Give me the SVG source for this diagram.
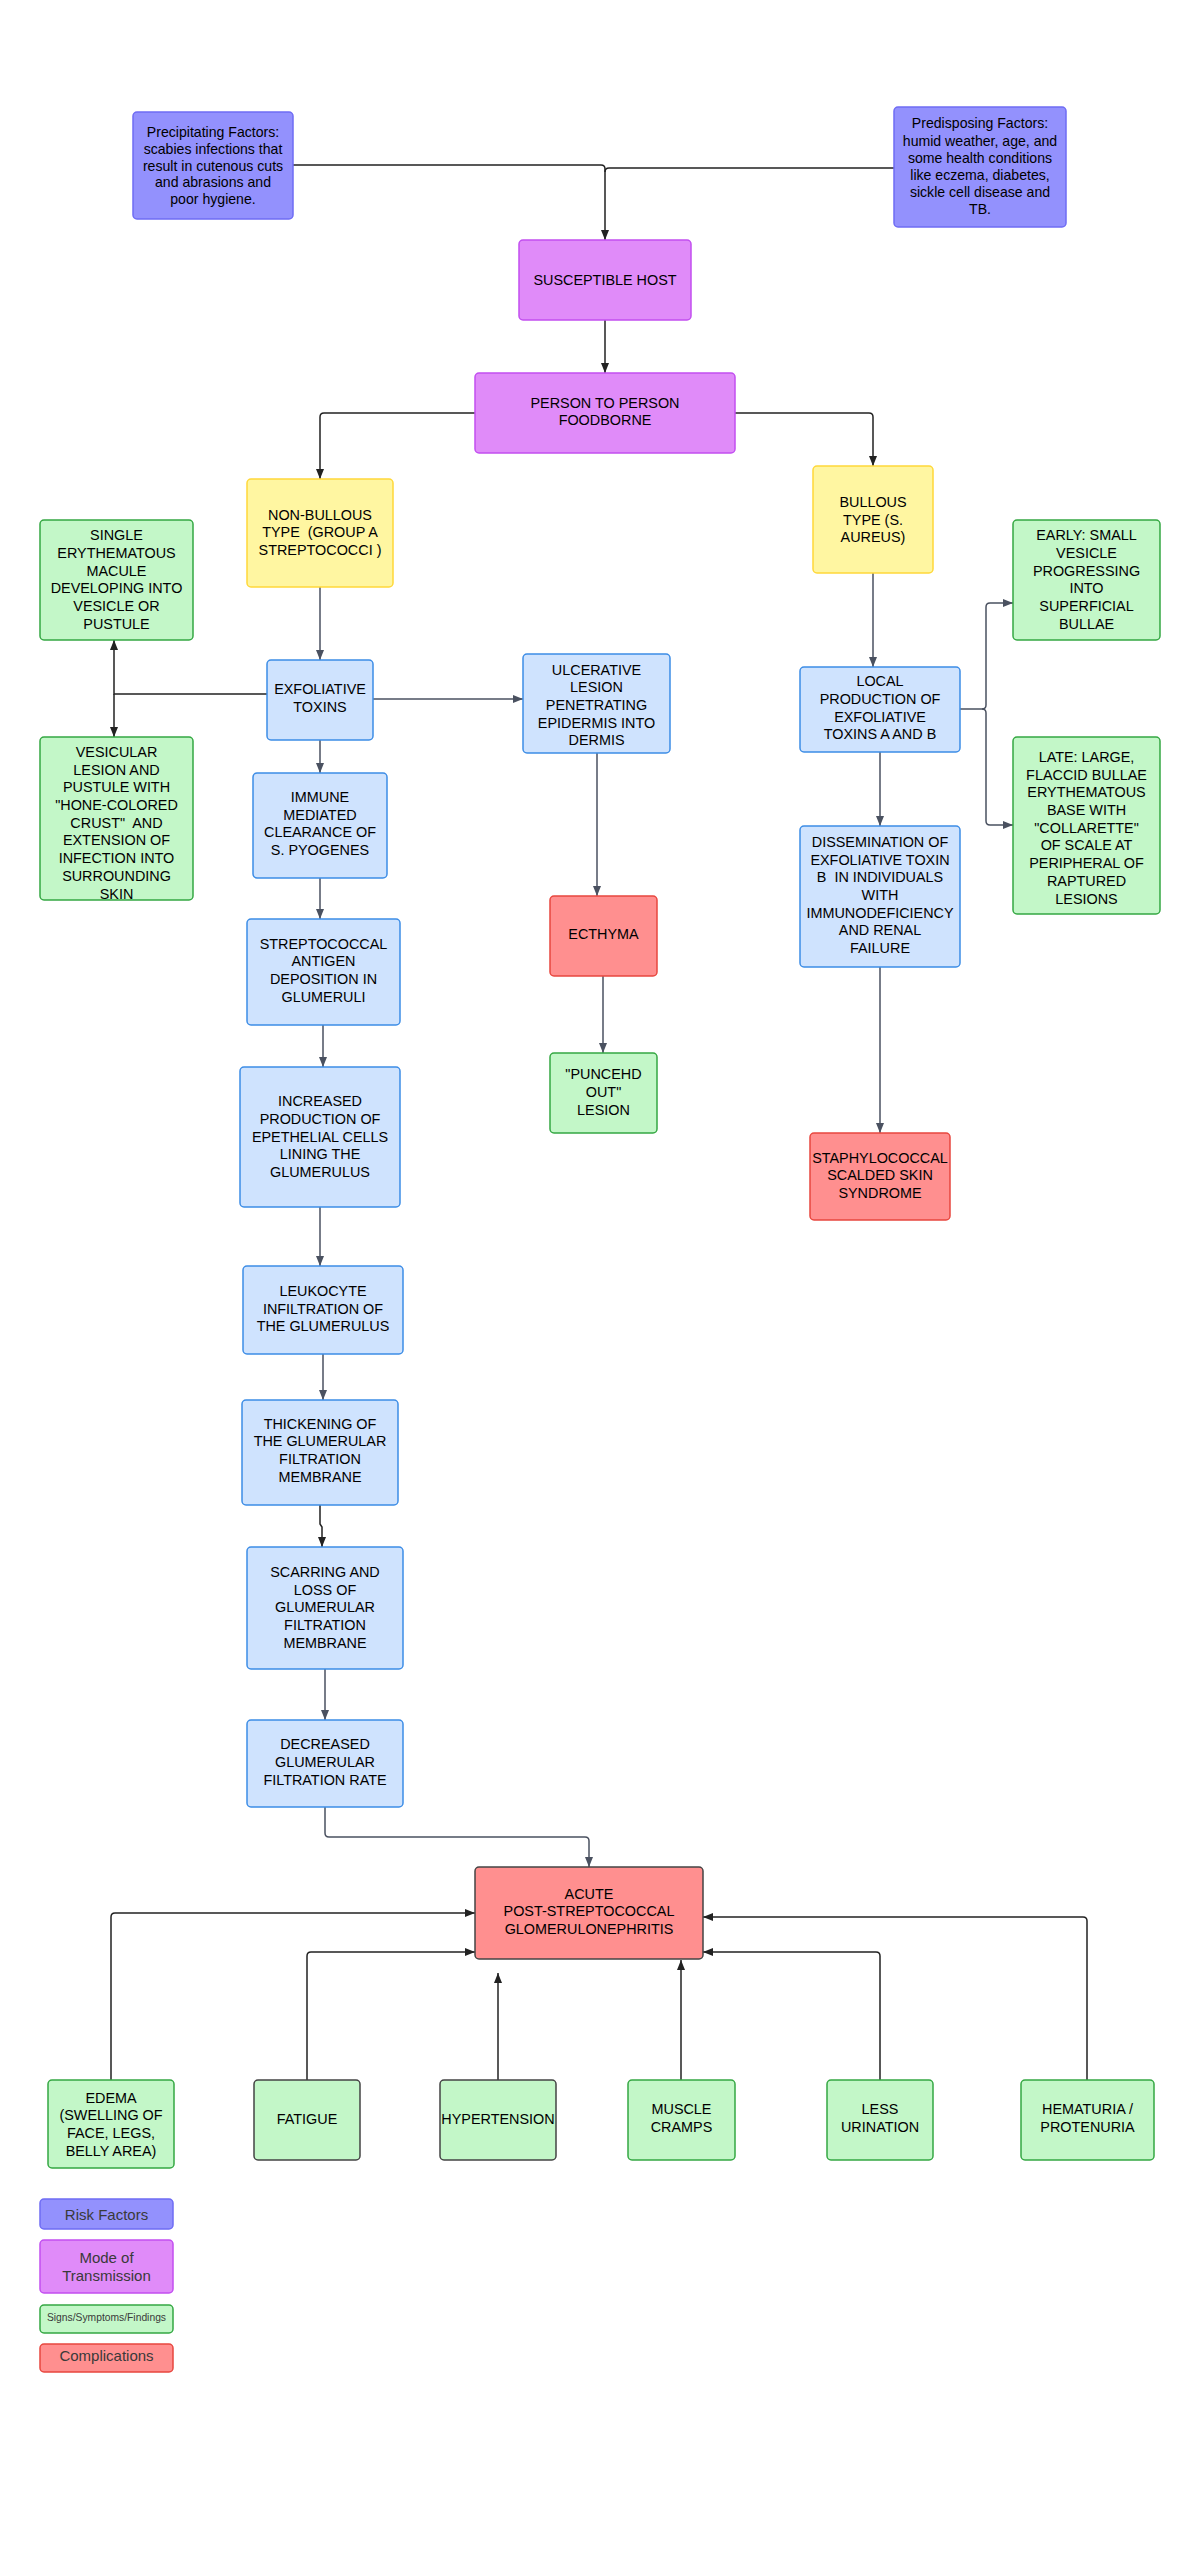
<svg xmlns="http://www.w3.org/2000/svg" width="1200" height="2559" viewBox="0 0 1200 2559">
<style>
  .n rect { stroke-width: 1.5; }
  .rf { fill: #9391fd; stroke: #6f6cf4; }
  .mt { fill: #e08bf9; stroke: #c24ff0; }
  .yl { fill: #fff6a1; stroke: #ffd83a; }
  .bl { fill: #cfe3fe; stroke: #3d8de6; }
  .gr { fill: #c3f7c8; stroke: #35a843; }
  .rd { fill: #ff8f8f; stroke: #e8473f; }
  .dk { stroke: #444 !important; }
  .t { font-family: "Liberation Sans", Arial, sans-serif; font-size: 14.4px; fill: #000; text-anchor: middle; white-space: pre; }
  .tm { font-size: 14.1px; }
  .lg { font-family: "Liberation Sans", Arial, sans-serif; font-size: 15px; fill: #3a3a3a; text-anchor: middle; }
  .c path { fill: none; stroke-width: 1.5; }
  .k { stroke: #222; }
  .s { stroke: #4a5160; }
</style>
<defs>
  <marker id="ak" markerUnits="userSpaceOnUse" markerWidth="10" markerHeight="8" refX="10" refY="4" orient="auto">
    <path d="M0,0 L10,4 L0,8 z" fill="#222"/>
  </marker>
  <marker id="as" markerUnits="userSpaceOnUse" markerWidth="10" markerHeight="8" refX="10" refY="4" orient="auto">
    <path d="M0,0 L10,4 L0,8 z" fill="#4a5160"/>
  </marker>
</defs>
<rect width="1200" height="2559" fill="#ffffff"/>

<g id="connectors" class="c">
  <path class="k" d="M293,165 H601 Q605,165 605,169 V240" marker-end="url(#ak)"/>
  <path class="k" d="M894,168 H609 Q605,168 605,172"/>
  <path class="k" d="M605,320 V373" marker-end="url(#ak)"/>
  <path class="k" d="M475,413 H324 Q320,413 320,417 V479" marker-end="url(#ak)"/>
  <path class="k" d="M735,413 H869 Q873,413 873,417 V466" marker-end="url(#ak)"/>
  <path class="s" d="M320,587 V660" marker-end="url(#as)"/>
  <path class="k" d="M267,694 H114 V640" marker-end="url(#ak)"/>
  <path class="k" d="M114,694 V737" marker-end="url(#ak)"/>
  <path class="s" d="M373,699 H523" marker-end="url(#as)"/>
  <path class="s" d="M320,740 V773" marker-end="url(#as)"/>
  <path class="s" d="M320,878 V919" marker-end="url(#as)"/>
  <path class="s" d="M323,1025 V1067" marker-end="url(#as)"/>
  <path class="s" d="M320,1207 V1266" marker-end="url(#as)"/>
  <path class="s" d="M323,1354 V1400" marker-end="url(#as)"/>
  <path class="k" d="M320,1505 V1524 L322,1527 V1547" marker-end="url(#ak)"/>
  <path class="s" d="M325,1669 V1720" marker-end="url(#as)"/>
  <path class="s" d="M325,1807 V1833 Q325,1837 329,1837 H585 Q589,1837 589,1841 V1867" marker-end="url(#as)"/>
  <path class="s" d="M597,753 V896" marker-end="url(#as)"/>
  <path class="s" d="M603,976 V1053" marker-end="url(#as)"/>
  <path class="s" d="M873,573 V667" marker-end="url(#as)"/>
  <path class="s" d="M960,709 H982 Q986,709 986,705 V607 Q986,603 990,603 H1013" marker-end="url(#as)"/>
  <path class="s" d="M982,709 Q986,709 986,713 V821 Q986,825 990,825 H1013" marker-end="url(#as)"/>
  <path class="s" d="M880,752 V826" marker-end="url(#as)"/>
  <path class="s" d="M880,967 V1133" marker-end="url(#as)"/>
  <path class="k" d="M111,2080 V1917 Q111,1913 115,1913 H475" marker-end="url(#ak)"/>
  <path class="k" d="M307,2080 V1956 Q307,1952 311,1952 H475" marker-end="url(#ak)"/>
  <path class="k" d="M498,2080 V1973" marker-end="url(#ak)"/>
  <path class="k" d="M681,2080 V1960" marker-end="url(#ak)"/>
  <path class="k" d="M880,2080 V1956 Q880,1952 876,1952 H703" marker-end="url(#ak)"/>
  <path class="k" d="M1087,2080 V1921 Q1087,1917 1083,1917 H703" marker-end="url(#ak)"/>
</g>

<g id="precipitating" class="n">
  <rect class="rf" x="133" y="112" width="160" height="107" rx="4"/>
  <text class="t tm"><tspan x="213" y="137">Precipitating Factors:</tspan><tspan x="213" y="153.8">scabies infections that</tspan><tspan x="213" y="170.6">result in cutenous cuts</tspan><tspan x="213" y="187.4">and abrasions and</tspan><tspan x="213" y="204.2">poor hygiene.</tspan></text>
</g>
<g id="predisposing" class="n">
  <rect class="rf" x="894" y="107" width="172" height="120" rx="4"/>
  <text class="t tm"><tspan x="980" y="128.3">Predisposing Factors:</tspan><tspan x="980" y="145.5">humid weather, age, and</tspan><tspan x="980" y="162.7">some health conditions</tspan><tspan x="980" y="179.9">like eczema, diabetes,</tspan><tspan x="980" y="197.1">sickle cell disease and</tspan><tspan x="980" y="214.3">TB.</tspan></text>
</g>
<g id="susceptible" class="n">
  <rect class="mt" x="519" y="240" width="172" height="80" rx="4"/>
  <text class="t"><tspan x="605" y="285">SUSCEPTIBLE HOST</tspan></text>
</g>
<g id="person" class="n">
  <rect class="mt" x="475" y="373" width="260" height="80" rx="4"/>
  <text class="t"><tspan x="605" y="407.5">PERSON TO PERSON</tspan><tspan x="605" y="425.2">FOODBORNE</tspan></text>
</g>
<g id="nonbullous" class="n">
  <rect class="yl" x="247" y="479" width="146" height="108" rx="4"/>
  <text class="t"><tspan x="320" y="519.5">NON-BULLOUS</tspan><tspan x="320" y="537.2">TYPE  (GROUP A</tspan><tspan x="320" y="554.9">STREPTOCOCCI )</tspan></text>
</g>
<g id="bullous" class="n">
  <rect class="yl" x="813" y="466" width="120" height="107" rx="4"/>
  <text class="t"><tspan x="873" y="506.9">BULLOUS</tspan><tspan x="873" y="524.6">TYPE (S.</tspan><tspan x="873" y="542.3">AUREUS)</tspan></text>
</g>
<g id="single" class="n">
  <rect class="gr" x="40" y="520" width="153" height="120" rx="4"/>
  <text class="t"><tspan x="116.5" y="540.2">SINGLE</tspan><tspan x="116.5" y="557.9">ERYTHEMATOUS</tspan><tspan x="116.5" y="575.6">MACULE</tspan><tspan x="116.5" y="593.3">DEVELOPING INTO</tspan><tspan x="116.5" y="611">VESICLE OR</tspan><tspan x="116.5" y="628.7">PUSTULE</tspan></text>
</g>
<g id="exfoliative" class="n">
  <rect class="bl" x="267" y="660" width="106" height="80" rx="4"/>
  <text class="t"><tspan x="320" y="694.2">EXFOLIATIVE</tspan><tspan x="320" y="711.9">TOXINS</tspan></text>
</g>
<g id="vesicular" class="n">
  <rect class="gr" x="40" y="737" width="153" height="163" rx="4"/>
  <text class="t"><tspan x="116.5" y="756.9">VESICULAR</tspan><tspan x="116.5" y="774.6">LESION AND</tspan><tspan x="116.5" y="792.3">PUSTULE WITH</tspan><tspan x="116.5" y="810">"HONE-COLORED</tspan><tspan x="116.5" y="827.7">CRUST"  AND</tspan><tspan x="116.5" y="845.4">EXTENSION OF</tspan><tspan x="116.5" y="863.1">INFECTION INTO</tspan><tspan x="116.5" y="880.8">SURROUNDING</tspan><tspan x="116.5" y="898.5">SKIN</tspan></text>
</g>
<g id="immune" class="n">
  <rect class="bl" x="253" y="773" width="134" height="105" rx="4"/>
  <text class="t"><tspan x="320" y="801.9">IMMUNE</tspan><tspan x="320" y="819.6">MEDIATED</tspan><tspan x="320" y="837.3">CLEARANCE OF</tspan><tspan x="320" y="855">S. PYOGENES</tspan></text>
</g>
<g id="ulcerative" class="n">
  <rect class="bl" x="523" y="654" width="147" height="99" rx="4"/>
  <text class="t"><tspan x="596.5" y="674.5">ULCERATIVE</tspan><tspan x="596.5" y="692.2">LESION</tspan><tspan x="596.5" y="709.9">PENETRATING</tspan><tspan x="596.5" y="727.6">EPIDERMIS INTO</tspan><tspan x="596.5" y="745.3">DERMIS</tspan></text>
</g>
<g id="local" class="n">
  <rect class="bl" x="800" y="667" width="160" height="85" rx="4"/>
  <text class="t"><tspan x="880" y="686.2">LOCAL</tspan><tspan x="880" y="703.9">PRODUCTION OF</tspan><tspan x="880" y="721.6">EXFOLIATIVE</tspan><tspan x="880" y="739.3">TOXINS A AND B</tspan></text>
</g>
<g id="early" class="n">
  <rect class="gr" x="1013" y="520" width="147" height="120" rx="4"/>
  <text class="t"><tspan x="1086.5" y="540.2">EARLY: SMALL</tspan><tspan x="1086.5" y="557.9">VESICLE</tspan><tspan x="1086.5" y="575.6">PROGRESSING</tspan><tspan x="1086.5" y="593.3">INTO</tspan><tspan x="1086.5" y="611">SUPERFICIAL</tspan><tspan x="1086.5" y="628.7">BULLAE</tspan></text>
</g>
<g id="late" class="n">
  <rect class="gr" x="1013" y="737" width="147" height="177" rx="4"/>
  <text class="t"><tspan x="1086.5" y="761.9">LATE: LARGE,</tspan><tspan x="1086.5" y="779.6">FLACCID BULLAE</tspan><tspan x="1086.5" y="797.3">ERYTHEMATOUS</tspan><tspan x="1086.5" y="815">BASE WITH</tspan><tspan x="1086.5" y="832.7">"COLLARETTE"</tspan><tspan x="1086.5" y="850.4">OF SCALE AT</tspan><tspan x="1086.5" y="868.1">PERIPHERAL OF</tspan><tspan x="1086.5" y="885.8">RAPTURED</tspan><tspan x="1086.5" y="903.5">LESIONS</tspan></text>
</g>
<g id="dissemination" class="n">
  <rect class="bl" x="800" y="826" width="160" height="141" rx="4"/>
  <text class="t"><tspan x="880" y="846.9">DISSEMINATION OF</tspan><tspan x="880" y="864.6">EXFOLIATIVE TOXIN</tspan><tspan x="880" y="882.3">B  IN INDIVIDUALS</tspan><tspan x="880" y="900">WITH</tspan><tspan x="880" y="917.7">IMMUNODEFICIENCY</tspan><tspan x="880" y="935.4">AND RENAL</tspan><tspan x="880" y="953.1">FAILURE</tspan></text>
</g>
<g id="streptococcal" class="n">
  <rect class="bl" x="247" y="919" width="153" height="106" rx="4"/>
  <text class="t"><tspan x="323.5" y="948.5">STREPTOCOCCAL</tspan><tspan x="323.5" y="966.2">ANTIGEN</tspan><tspan x="323.5" y="983.9">DEPOSITION IN</tspan><tspan x="323.5" y="1001.6">GLUMERULI</tspan></text>
</g>
<g id="ecthyma" class="n">
  <rect class="rd" x="550" y="896" width="107" height="80" rx="4"/>
  <text class="t"><tspan x="603.5" y="939.2">ECTHYMA</tspan></text>
</g>
<g id="punched" class="n">
  <rect class="gr" x="550" y="1053" width="107" height="80" rx="4"/>
  <text class="t"><tspan x="603.5" y="1079.2">"PUNCEHD</tspan><tspan x="603.5" y="1096.9">OUT"</tspan><tspan x="603.5" y="1114.6">LESION</tspan></text>
</g>
<g id="ssss" class="n">
  <rect class="rd" x="810" y="1133" width="140" height="87" rx="4"/>
  <text class="t"><tspan x="880" y="1162.5">STAPHYLOCOCCAL</tspan><tspan x="880" y="1180.2">SCALDED SKIN</tspan><tspan x="880" y="1197.9">SYNDROME</tspan></text>
</g>
<g id="increased" class="n">
  <rect class="bl" x="240" y="1067" width="160" height="140" rx="4"/>
  <text class="t"><tspan x="320" y="1106.2">INCREASED</tspan><tspan x="320" y="1123.9">PRODUCTION OF</tspan><tspan x="320" y="1141.6">EPETHELIAL CELLS</tspan><tspan x="320" y="1159.3">LINING THE</tspan><tspan x="320" y="1177">GLUMERULUS</tspan></text>
</g>
<g id="leukocyte" class="n">
  <rect class="bl" x="243" y="1266" width="160" height="88" rx="4"/>
  <text class="t"><tspan x="323" y="1295.9">LEUKOCYTE</tspan><tspan x="323" y="1313.6">INFILTRATION OF</tspan><tspan x="323" y="1331.3">THE GLUMERULUS</tspan></text>
</g>
<g id="thickening" class="n">
  <rect class="bl" x="242" y="1400" width="156" height="105" rx="4"/>
  <text class="t"><tspan x="320" y="1428.5">THICKENING OF</tspan><tspan x="320" y="1446.2">THE GLUMERULAR</tspan><tspan x="320" y="1463.9">FILTRATION</tspan><tspan x="320" y="1481.6">MEMBRANE</tspan></text>
</g>
<g id="scarring" class="n">
  <rect class="bl" x="247" y="1547" width="156" height="122" rx="4"/>
  <text class="t"><tspan x="325" y="1576.9">SCARRING AND</tspan><tspan x="325" y="1594.6">LOSS OF</tspan><tspan x="325" y="1612.3">GLUMERULAR</tspan><tspan x="325" y="1630">FILTRATION</tspan><tspan x="325" y="1647.7">MEMBRANE</tspan></text>
</g>
<g id="decreased" class="n">
  <rect class="bl" x="247" y="1720" width="156" height="87" rx="4"/>
  <text class="t"><tspan x="325" y="1749.2">DECREASED</tspan><tspan x="325" y="1766.9">GLUMERULAR</tspan><tspan x="325" y="1784.6">FILTRATION RATE</tspan></text>
</g>
<g id="acute" class="n">
  <rect class="rd dk" x="475" y="1867" width="228" height="92" rx="4"/>
  <text class="t"><tspan x="589" y="1898.5">ACUTE</tspan><tspan x="589" y="1916.2">POST-STREPTOCOCCAL</tspan><tspan x="589" y="1933.9">GLOMERULONEPHRITIS</tspan></text>
</g>
<g id="edema" class="n">
  <rect class="gr" x="48" y="2080" width="126" height="88" rx="4"/>
  <text class="t"><tspan x="111" y="2102.5">EDEMA</tspan><tspan x="111" y="2120.2">(SWELLING OF</tspan><tspan x="111" y="2137.9">FACE, LEGS,</tspan><tspan x="111" y="2155.6">BELLY AREA)</tspan></text>
</g>
<g id="fatigue" class="n">
  <rect class="gr dk" x="254" y="2080" width="106" height="80" rx="4"/>
  <text class="t"><tspan x="307" y="2124.2">FATIGUE</tspan></text>
</g>
<g id="hypertension" class="n">
  <rect class="gr dk" x="440" y="2080" width="116" height="80" rx="4"/>
  <text class="t"><tspan x="498" y="2123.5">HYPERTENSION</tspan></text>
</g>
<g id="muscle" class="n">
  <rect class="gr" x="628" y="2080" width="107" height="80" rx="4"/>
  <text class="t"><tspan x="681.5" y="2114.2">MUSCLE</tspan><tspan x="681.5" y="2131.9">CRAMPS</tspan></text>
</g>
<g id="less" class="n">
  <rect class="gr" x="827" y="2080" width="106" height="80" rx="4"/>
  <text class="t"><tspan x="880" y="2114.2">LESS</tspan><tspan x="880" y="2131.9">URINATION</tspan></text>
</g>
<g id="hematuria" class="n">
  <rect class="gr" x="1021" y="2080" width="133" height="80" rx="4"/>
  <text class="t"><tspan x="1087.5" y="2114.2">HEMATURIA /</tspan><tspan x="1087.5" y="2131.9">PROTENURIA</tspan></text>
</g>

<g id="legend-risk" class="n">
  <rect class="rf" x="40" y="2199" width="133" height="30" rx="4"/>
  <text class="lg" x="106.5" y="2220">Risk Factors</text>
</g>
<g id="legend-mode" class="n">
  <rect class="mt" x="40" y="2240" width="133" height="53" rx="4"/>
  <text class="lg"><tspan x="106.5" y="2262.7">Mode of</tspan><tspan x="106.5" y="2280.7">Transmission</tspan></text>
</g>
<g id="legend-signs" class="n">
  <rect class="gr" x="40" y="2305" width="133" height="28" rx="4"/>
  <text class="lg" x="106.5" y="2321.4" style="font-size:10.3px">Signs/Symptoms/Findings</text>
</g>
<g id="legend-complications" class="n">
  <rect class="rd" x="40" y="2344" width="133" height="28" rx="4"/>
  <text class="lg" x="106.5" y="2361.3">Complications</text>
</g>
</svg>
